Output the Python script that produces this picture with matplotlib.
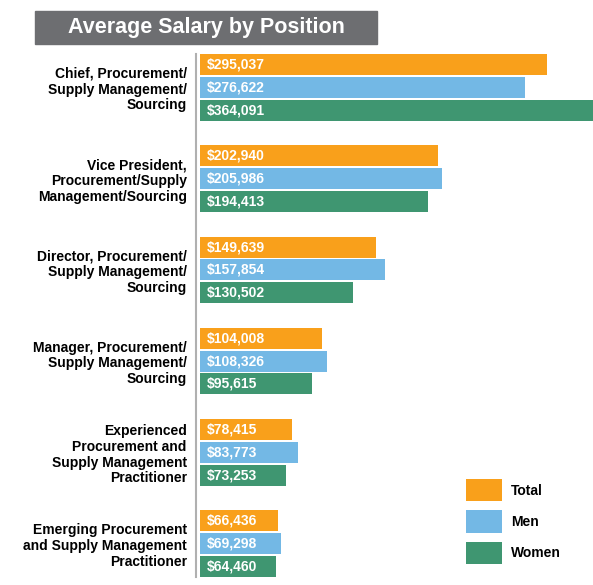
import numpy as np
import matplotlib as mpl
mpl.use('Agg')
from matplotlib import pyplot as plt

# data
positions = [
    "Chief, Procurement/\nSupply Management/\nSourcing",
    "Vice President,\nProcurement/Supply\nManagement/Sourcing",
    "Director, Procurement/\nSupply Management/\nSourcing",
    "Manager, Procurement/\nSupply Management/\nSourcing",
    "Experienced\nProcurement and\nSupply Management\nPractitioner",
    "Emerging Procurement\nand Supply Management\nPractitioner",
]
series_names = ["Total", "Men", "Women"]
total = [295037, 202940, 149639, 104008, 78415, 66436]
men = [276622, 205986, 157854, 108326, 83773, 69298]
women = [364091, 194413, 130502, 95615, 73253, 64460]

colors = ["#F9A01B", "#73B8E5", "#3F9671"]

W, H = 593, 585
fig = plt.figure(figsize=(W / 100, H / 100), dpi=100)

ax = fig.add_axes([200 / W, 8 / H, 1 - 200 / W, (577 - 54) / H])

y = np.arange(len(positions))
step = 0.25
bh = 0.23
handles = []
for k, (name, vals) in enumerate(zip(series_names, [total, men, women])):
    b = ax.barh(y + (k - 1) * step, vals, height=bh, color=colors[k], label=name)
    handles.append(b)
    for yy, v in zip(y + (k - 1) * step, vals):
        ax.text(6000, yy, f"${v:,}", color='white', fontsize=10, fontweight='bold',
                family='Liberation Sans', va='center', ha='left')

ax.set_xlim(0, 334500)
ax.set_ylim(len(positions) - 1 + 0.365, -0.365)

for s in ['top', 'right', 'bottom']:
    ax.spines[s].set_visible(False)
ax.spines['left'].set_position(('outward', 3))
ax.spines['left'].set_color('#b0b0b0')
ax.spines['left'].set_linewidth(1.5)
ax.set_xticks([])
ax.set_yticks(y)
ax.set_yticklabels(positions, fontsize=10, fontweight='bold', family='Liberation Sans',
                   linespacing=1.15)
ax.tick_params(axis='y', length=0, pad=6.5)

# title box
fig.patches.append(plt.Rectangle((35 / W, 1 - 44 / H), (377 - 35) / W, 33 / H,
                                 transform=fig.transFigure, color='#6D6E71'))
fig.text((35 + 377) / 2 / W, 1 - 28 / H, "Average Salary by Position", color='white',
         fontsize=15.5, fontweight='bold', family='Liberation Sans',
         ha='center', va='center')

fig.legend(handles=handles, labels=series_names, loc='upper left',
           bbox_to_anchor=(466 / W, 1 - 479 / H), frameon=False,
           prop={'family': 'Liberation Sans', 'weight': 'bold', 'size': 10},
           handlelength=2.6, handleheight=2.1, labelspacing=0.65,
           handletextpad=0.65, borderpad=0, borderaxespad=0)

plt.savefig("out.png", dpi=100)
plt.close()
